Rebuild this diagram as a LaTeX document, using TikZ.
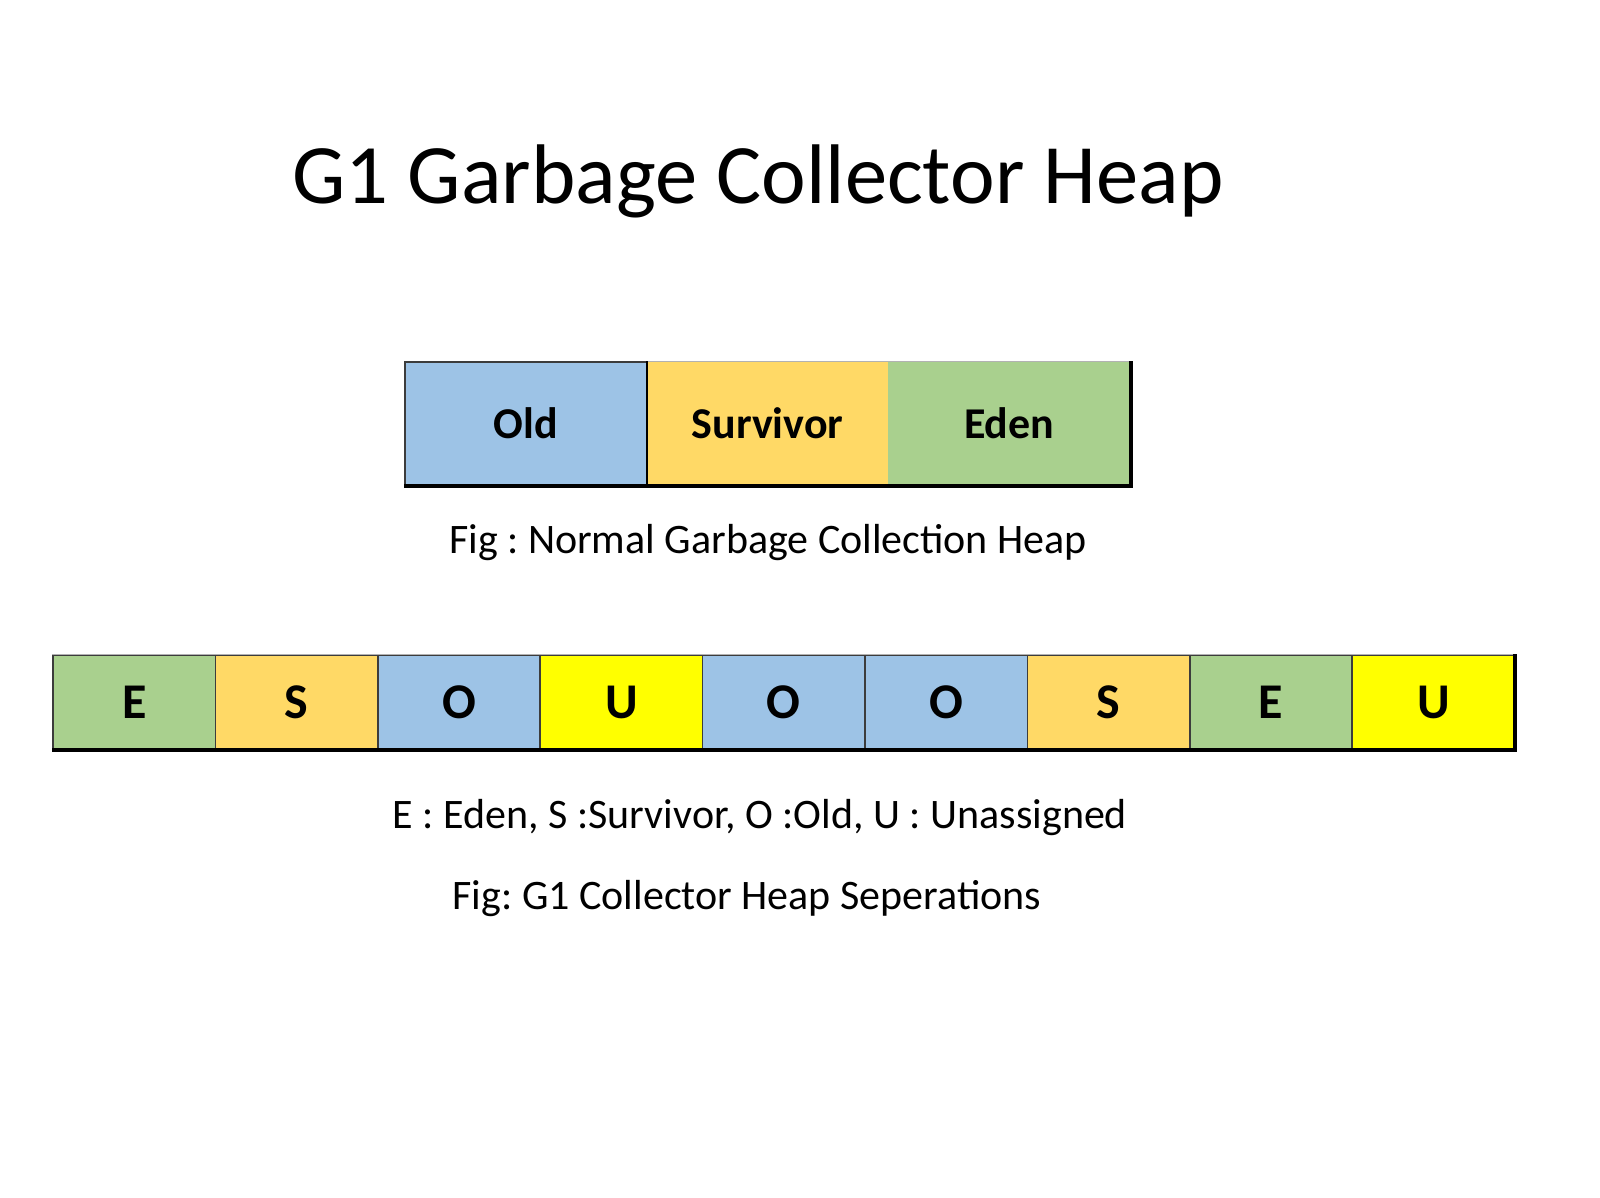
\documentclass[tikz,border=0pt]{standalone}
\usepackage{fontspec}
\setmainfont{Carlito}
\usepackage{xcolor}
\usepackage{tikz}
\definecolor{oldblue}{RGB}{157,195,230}
\definecolor{survivororange}{RGB}{255,217,102}
\definecolor{edengreen}{RGB}{169,208,142}
\definecolor{unassignedyellow}{RGB}{255,255,0}
\definecolor{celledge}{RGB}{60,60,60}
\frenchspacing

\begin{document}
\begin{tikzpicture}[x=0.5pt,y=-0.5pt,
    bigcell/.style={rectangle,draw=celledge,line width=0.6pt,inner sep=0pt,
        minimum width=120.8pt,minimum height=61.5pt,
        font=\fontsize{22}{22}\selectfont\bfseries},
    smallcell/.style={rectangle,draw=celledge,line width=0.8pt,inner sep=0pt,
        minimum width=81.2pt,minimum height=47pt,
        font=\fontsize{25}{25}\selectfont\bfseries},
    shadowline/.style={black,line width=2pt}]
                \useasboundingbox (0,0) rectangle (1600,1198);
                % Title
                \node[anchor=base] (title) at (758,204)
                    {\fontsize{42.3}{42.3}\selectfont G1 Garbage Collector Heap};
                % Normal heap
                \node[bigcell,fill=oldblue] (old) at (525.8,423.5) {Old};
                \node[bigcell,fill=survivororange,draw=none] (survivor) at (767.5,423.5) {Survivor};
                \node[bigcell,fill=edengreen,draw=none] (eden) at (1009.2,423.5) {Eden};
                \draw[gray!60] (survivor.north west) -- (eden.north east);
                \draw[black,line width=1pt] (old.north east) -- (old.south east);
                \draw[shadowline] (old.south west) -- (eden.south east) -- (eden.north east);
                \node[anchor=base] (normalcap) at (768,553)
                    {\fontsize{21}{21}\selectfont Fig : Normal Garbage Collection Heap};
                % G1 regions
                \node[smallcell,fill=edengreen] (r1) at (134.2,702) {E};
                \node[smallcell,fill=survivororange] (r2) at (296.6,702) {S};
                \node[smallcell,fill=oldblue] (r3) at (459,702) {O};
                \node[smallcell,fill=unassignedyellow] (r4) at (621.4,702) {U};
                \node[smallcell,fill=oldblue] (r5) at (783.8,702) {O};
                \node[smallcell,fill=oldblue] (r6) at (946.2,702) {O};
                \node[smallcell,fill=survivororange] (r7) at (1108.6,702) {S};
                \node[smallcell,fill=edengreen] (r8) at (1271,702) {E};
                \node[smallcell,fill=unassignedyellow] (r9) at (1433.4,702) {U};
                \draw[gray!60] (r1.north west) -- (r9.north east);
                \draw[shadowline] (r1.south west) -- (r9.south east) -- (r9.north east);
                % Labels
                \node[anchor=base] (legend) at (760,828)
                    {\fontsize{21}{21}\selectfont E : Eden, S :Survivor, O :Old, U : Unassigned};
                \node[anchor=base] (g1cap) at (747,909)
                    {\fontsize{21}{21}\selectfont Fig: G1 Collector Heap Seperations};
            \end{tikzpicture}
\end{document}
